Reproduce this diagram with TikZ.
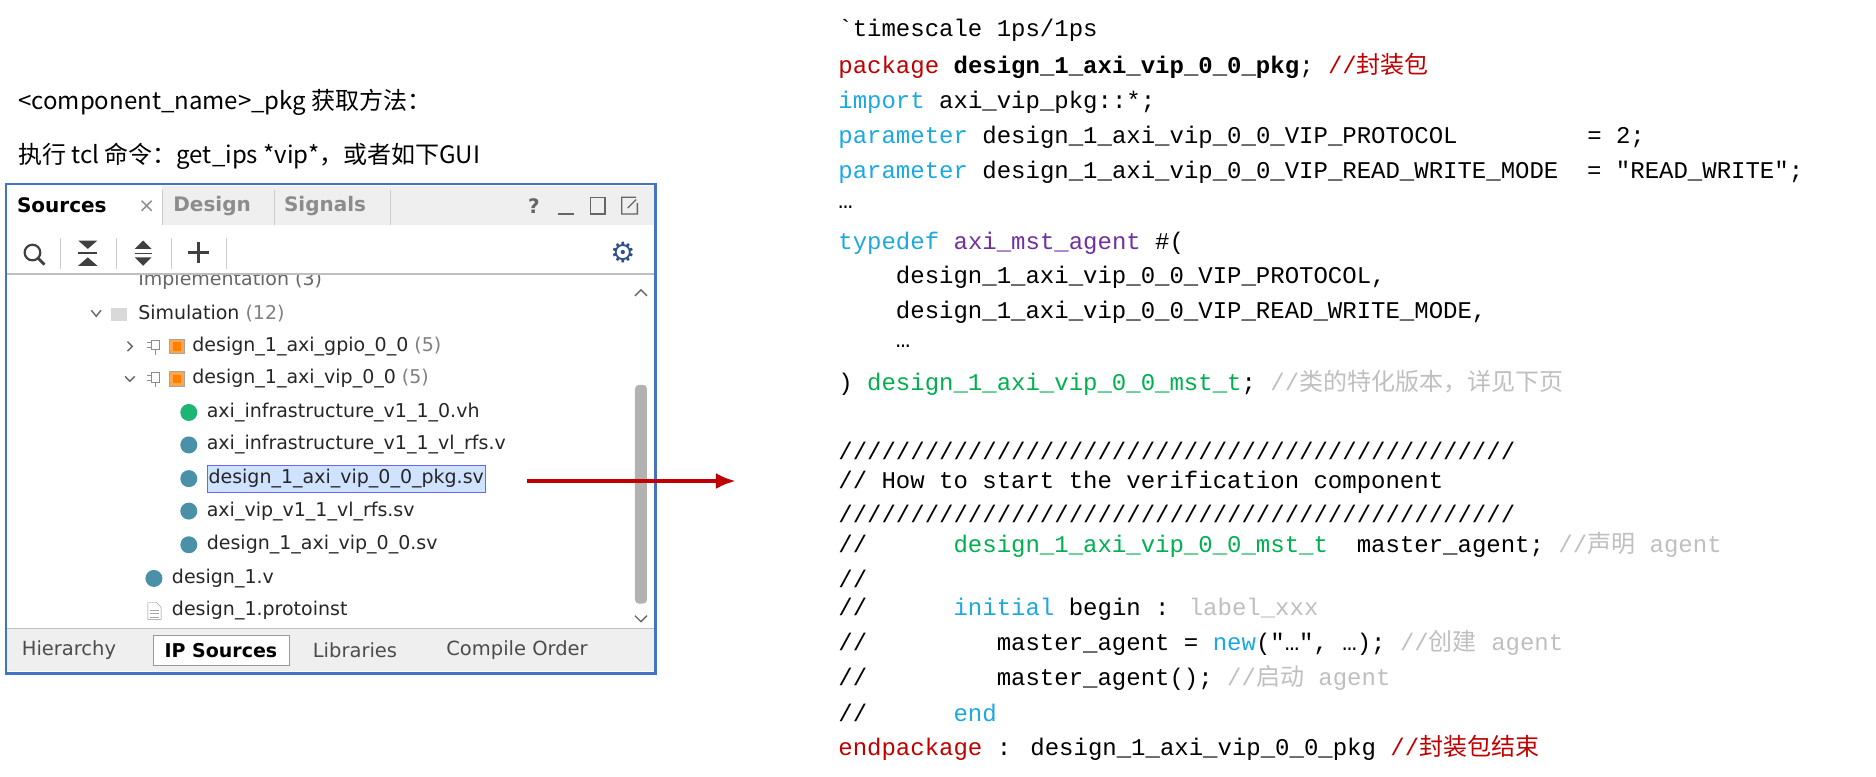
\documentclass[tikz,border=0pt]{standalone}
\usepackage{fontspec}
\usepackage{xcolor}
\usetikzlibrary{arrows.meta,positioning,calc}
\setmainfont{DejaVu Sans}
\newfontfamily\cjk{Noto Sans CJK SC}
\newfontfamily\codefont{Liberation Mono}
\definecolor{kwred}{HTML}{C00000}
\definecolor{kwcyan}{HTML}{1CA8E0}
\definecolor{kwpurple}{HTML}{7030A0}
\definecolor{kwgreen}{HTML}{00B050}
\definecolor{cmgray}{HTML}{BFBFBF}
\definecolor{panelblue}{HTML}{4472C4}
\definecolor{tabgray}{HTML}{EFEFEF}
\definecolor{dotteal}{HTML}{4A90A8}
\definecolor{dotgreen}{HTML}{1DB574}
\definecolor{selblue}{HTML}{CFE2FF}
\newcommand\kwr[1]{\textcolor{kwred}{#1}}
\newcommand\kwc[1]{\textcolor{kwcyan}{#1}}
\newcommand\kwp[1]{\textcolor{kwpurple}{#1}}
\newcommand\kwg[1]{\textcolor{kwgreen}{#1}}
\newcommand\cmt[1]{\textcolor{cmgray}{#1}}
\newcommand\zh[1]{{\cjk #1}}
\newcommand\gap[1]{\hspace*{#1\dimexpr0.6em\relax}}
\tikzset{
    % code line style
    codeline/.style={anchor=west, inner sep=0pt, font=\fontsize{24}{24}\codefont},
    % left caption style
    caption/.style={anchor=west, inner sep=0pt, font=\fontsize{24}{24}\cjk},
    % tree item style
    item/.style={anchor=west, inner sep=1pt, font=\fontsize{19}{19}\selectfont, text=black!85},
    tab/.style={anchor=west, inner sep=0pt, font=\fontsize{20}{20}\selectfont\bfseries, text=black!45},
    btab/.style={anchor=west, inner sep=0pt, font=\fontsize{19.5}{19.5}\selectfont, text=black!70},
    dot/.style={circle, fill=#1, minimum size=17pt, inner sep=0pt},
    chev/.style={line width=1.4pt, black!60},
    sep/.style={black!20, line width=1pt},
    flow/.style={-{Latex[length=20pt, width=16pt]}, line width=4pt, color=#1}
}
\begin{document}
\catcode`\_=12
\begin{tikzpicture}[x=1.2026pt, y=-1.2026pt]
    \useasboundingbox (0,0) rectangle (1560,645.3);

    % Captions
    \node[caption] (cap1) at (15,85) {<component_name>_pkg 获取方法：};
    \node[caption] (cap2) at (15,130) {执行 tcl 命令：get_ips *vip*，或者如下GUI};

    % Panel frame and bars
    \fill[tabgray] (5,155) rectangle (545,187);
    \fill[white] (5,155) rectangle (135,187);
    \draw[sep] (135,158) -- (135,187) (228,158) -- (228,187) (325,158) -- (325,187);
    \draw[black!25, line width=1.5pt] (5,228) -- (545,228);
    \fill[tabgray] (5,522) rectangle (545,558);
    \draw[black!25] (5,522) -- (545,522);
    \node[draw=panelblue, line width=2.4pt, minimum width=540*1.2026pt, minimum height=407*1.2026pt, inner sep=0pt] (panel) at (275,356.5) {};

    % Tabs
    \node[tab, text=black] (srcTab) at (14,171) {Sources};
    \node[tab, font=\fontsize{20}{20}\selectfont] (closeX) at (115,172) {×};
    \node[tab] (desTab) at (144,171) {Design};
    \node[tab] (sigTab) at (236,171) {Signals};
    \node[tab, text=black!60] (qmark) at (439,171) {?};
    \draw[black!60, line width=1.6pt] (464,178) -- (477,178);
    \draw[black!60, line width=1.4pt] (491,164) rectangle (503,178);
    \draw[black!60, line width=1.3pt] (529,164) -- (517,164) -- (517,178) -- (530,178) -- (530,169) (522,173) -- (529,166);

    % Toolbar
    \draw[black!75, line width=2.2pt] (27,210) circle (6.5);
    \draw[black!75, line width=2.8pt] (32,215) -- (37,220);
    \fill[black!75] (65,200) -- (81,200) -- (73,207) -- cycle (65,221) -- (81,221) -- (73,214) -- cycle;
    \draw[black!75, line width=1.5pt] (65,210.5) -- (81,210.5);
    \fill[black!75] (112,207) -- (126,207) -- (119,200) -- cycle (112,214) -- (126,214) -- (119,221) -- cycle;
    \draw[black!75, line width=1.2pt] (112,210.5) -- (126,210.5);
    \draw[black!75, line width=2.8pt] (156,210) -- (174,210) (165,201) -- (165,219);
    \draw[sep] (50,198) -- (50,224) (97,198) -- (97,224) (143,198) -- (143,224) (188,198) -- (188,224);
    \node[font=\fontsize{28}{28}\selectfont, text=panelblue!70!black, inner sep=0pt] (gear) at (518,210) {⚙};

    % Tree
    \begin{scope}
        \clip (5,229) rectangle (545,522);
        \node[item, text=black!60] (impl) at (114,233) {Implementation (3)};
    \end{scope}
    \draw[chev] (76,258) -- (80,263) -- (84,258);
    \fill[black!15] (92,256) rectangle (106,267);
    \node[item] (simu) at (114,261) {Simulation \textcolor{black!50}{(12)}};
    \draw[chev] (106,284) -- (110,288) -- (106,292);
    \draw[chev] (104,313) -- (108,317) -- (112,313);
    \foreach \yy in {288,315} {
        \draw[black!45, line width=1pt] (126,\yy-5) rectangle (133,\yy+3) (122,\yy-3) -- (126,\yy-3) (122,\yy+1) -- (126,\yy+1) (129.5,\yy+3) -- (129.5,\yy+7);
        \draw[black!35, fill=orange!70] (141,\yy-6) rectangle (153,\yy+6);
        \fill[orange] (143.5,\yy-3.5) rectangle (150.5,\yy+3.5);
    }
    \node[item] (gpio) at (159,288) {design_1_axi_gpio_0_0 \textcolor{black!50}{(5)}};
    \node[item] (vip) at (159,315) {design_1_axi_vip_0_0 \textcolor{black!50}{(5)}};
    \node[dot=dotgreen] (d1) at (157,343) {};
    \node[item] (f1) at (171,343) {axi_infrastructure_v1_1_0.vh};
    \node[dot=dotteal] (d2) at (157,370) {};
    \node[item] (f2) at (171,370) {axi_infrastructure_v1_1_vl_rfs.v};
    \node[dot=dotteal] (d3) at (157,398) {};
    \node[item, draw=blue!60, fill=selblue, inner sep=1.5pt, minimum height=22*1.2026pt] (pkg) at (172,398) {design_1_axi_vip_0_0_pkg.sv};
    \node[dot=dotteal] (d4) at (157,425) {};
    \node[item] (f4) at (171,425) {axi_vip_v1_1_vl_rfs.sv};
    \node[dot=dotteal] (d5) at (157,453) {};
    \node[item] (f5) at (171,453) {design_1_axi_vip_0_0.sv};
    \node[dot=dotteal] (d6) at (128,481) {};
    \node[item] (f6) at (142,481) {design_1.v};
    \draw[black!45, fill=white] (123,501) -- (130,501) -- (134,505) -- (134,515) -- (123,515) -- cycle;
    \draw[black!35] (125,507) -- (132,507) (125,510) -- (132,510) (125,513) -- (132,513);
    \node[item] (f7) at (142,508) {design_1.protoinst};

    % Scrollbar
    \draw[chev] (528,246) -- (533,241) -- (538,246);
    \fill[black!30, rounded corners=4pt] (528,320) rectangle (538,502);
    \draw[chev] (528,512) -- (533,517) -- (538,512);

    % Bottom tabs
    \node[btab] (hier) at (18,541) {Hierarchy};
    \node[btab, draw=black!40, fill=white, text=black, font=\fontsize{19}{19}\selectfont\bfseries, minimum width=113*1.2026pt, minimum height=25*1.2026pt, inner sep=0pt] (ipsrc) at (127,541) {IP Sources};
    \node[btab] (libs) at (260,541) {Libraries};
    \node[btab] (comp) at (371,541) {Compile Order};

    % Arrow
    \coordinate (arrowStart) at (438,400);
    \coordinate (arrowEnd) at (612,400);
    \draw[flow=kwred] (arrowStart) -- (arrowEnd);

    % Code
    \node[codeline] (c1) at (697,25) {\symbol{96}timescale 1ps/1ps};
    \node[codeline] (c2) at (697,55) {\kwr{package} \textbf{design_1_axi_vip_0_0_pkg}; \kwr{//\zh{封装包}}};
    \node[codeline] (c3) at (697,85) {\kwc{import} axi_vip_pkg::*;};
    \node[codeline] (c4) at (697,114) {\kwc{parameter} design_1_axi_vip_0_0_VIP_PROTOCOL\gap{9}= 2;};
    \node[codeline] (c5) at (697,143) {\kwc{parameter} design_1_axi_vip_0_0_VIP_READ_WRITE_MODE\gap{2}= "READ_WRITE";};
    \node[codeline] (c6) at (697,172) {…};
    \node[codeline] (c7) at (697,202) {\kwc{typedef} \kwp{axi_mst_agent} \#(};
    \node[codeline] (c8) at (697,231) {\gap{4}design_1_axi_vip_0_0_VIP_PROTOCOL,};
    \node[codeline] (c9) at (697,260) {\gap{4}design_1_axi_vip_0_0_VIP_READ_WRITE_MODE,};
    \node[codeline] (c10) at (697,288) {\gap{4}…};
    \node[codeline] (c11) at (697,318) {) \kwg{design_1_axi_vip_0_0_mst_t}; \cmt{//\zh{类的特化版本，详见下页}}};
    \node[codeline] (c12) at (697,375) {///////////////////////////////////////////////};
    \node[codeline] (c13) at (697,401) {// How to start the verification component};
    \node[codeline] (c14) at (697,427) {///////////////////////////////////////////////};
    \node[codeline] (c15) at (697,453) {//\gap{6}\kwg{design_1_axi_vip_0_0_mst_t}\gap{2}master_agent; \cmt{//\zh{声明} agent}};
    \node[codeline] (c16) at (697,481) {//};
    \node[codeline] (c17) at (697,507) {//\gap{6}\kwc{initial} begin : \cmt{label_xxx}};
    \node[codeline] (c18) at (697,535) {//\gap{9}master_agent = \kwc{new}("…", …); \cmt{//\zh{创建} agent}};
    \node[codeline] (c19) at (697,564) {//\gap{9}master_agent(); \cmt{//\zh{启动} agent}};
    \node[codeline] (c20) at (697,593) {//\gap{6}\kwc{end}};
    \node[codeline] (c21) at (697,622) {\kwr{endpackage} : design_1_axi_vip_0_0_pkg \kwr{//\zh{封装包结束}}};
\end{tikzpicture}
\end{document}
